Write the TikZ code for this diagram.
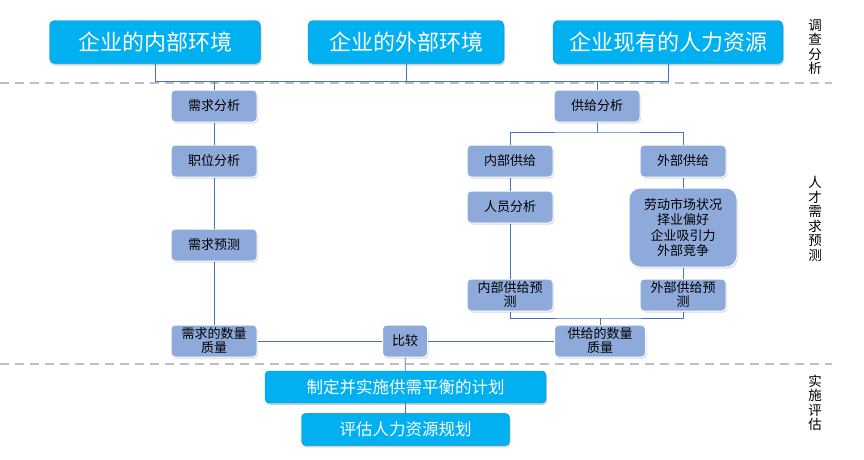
\documentclass[tikz,border=0pt]{standalone}
\usepackage{fontspec}
\setmainfont{Noto Sans CJK SC}
\usetikzlibrary{positioning,shadows}

\definecolor{cyanbox}{HTML}{00B0F0}
\definecolor{steelbox}{HTML}{8EAADB}
\definecolor{linkblue}{HTML}{4472C4}
\definecolor{sepgray}{HTML}{BFBFBF}

\tikzset{
  mainbox/.style={draw=cyanbox!85!black, fill=cyanbox, text=white, rounded corners=5pt,
    inner sep=0pt, minimum height=43pt,
    drop shadow={shadow xshift=1pt, shadow yshift=-2pt, opacity=.35}},
  stepbox/.style={draw=white, line width=1pt, fill=steelbox, text=black, rounded corners=4pt,
    inner sep=0pt, minimum width=86pt, minimum height=32pt, align=center,
    font=\fontsize{13}{14}\selectfont,
    drop shadow={shadow xshift=1pt, shadow yshift=-1.5pt, opacity=.3}},
  planbox/.style={draw=cyanbox!85!black, fill=cyanbox, text=white, rounded corners=4pt,
    inner sep=0pt, minimum height=32pt, font=\fontsize{16.5}{19}\selectfont,
    drop shadow={shadow xshift=1pt, shadow yshift=-2pt, opacity=.35}},
  link/.style={draw=linkblue, line width=0.8pt},
  sep/.style={draw=sepgray, line width=2pt, dash pattern=on 9pt off 6pt},
  phase/.style={align=center, inner sep=0pt, font=\fontsize{13.5}{14.5}\selectfont},
}

\begin{document}
\begin{tikzpicture}[x=1pt, y=-1pt]
  \useasboundingbox (0,0) rectangle (864,459);

  % phase separators
  \draw[sep] (0,83) -- (832,83);
  \draw[sep] (0,364) -- (832,364);

  % survey
  \node[mainbox, minimum width=211pt, font=\fontsize{22}{26}\selectfont] (inner) at (155,42) {企业的内部环境};
  \node[mainbox, minimum width=196pt, font=\fontsize{22}{26}\selectfont] (outer) at (406,42) {企业的外部环境};
  \node[mainbox, minimum width=230pt, font=\fontsize{22}{26}\selectfont] (staff) at (668,42) {企业现有的人力资源};

  % demand side
  \node[stepbox] (demand) at (214,106) {需求分析};
  \node[stepbox] (job) at (214,161) {职位分析};
  \node[stepbox] (dforecast) at (214,245) {需求预测};
  \node[stepbox] (dqty) at (214,341) {需求的数量\\质量};
  \node[stepbox, minimum width=45pt] (compare) at (405,341) {比较};

  % supply side
  \node[stepbox] (supply) at (597,106) {供给分析};
  \node[stepbox] (insup) at (510,161) {内部供给};
  \node[stepbox] (outsup) at (683,161) {外部供给};
  \node[stepbox] (people) at (510,207) {人员分析};
  \node[stepbox, minimum width=108pt, minimum height=79pt, rounded corners=11pt,
        font=\fontsize{13}{15.5}\selectfont] (market) at (683,227.5)
        {劳动市场状况\\择业偏好\\企业吸引力\\外部竞争};
  \node[stepbox] (inforecast) at (510,295) {内部供给预\\测};
  \node[stepbox] (outforecast) at (683,295) {外部供给预\\测};
  \node[stepbox, minimum width=91pt] (sqty) at (600,341) {供给的数量\\质量};

  % implementation
  \node[planbox, minimum width=281pt] (plan) at (405.5,387) {制定并实施供需平衡的计划};
  \node[planbox, minimum width=208pt, below=10pt of plan] (review) {评估人力资源规划};

  % phase labels
  \node[phase] (lbl1) at (815,47) {调\\查\\分\\析};
  \node[phase] (lbl2) at (815,219) {人\\才\\需\\求\\预\\测};
  \node[phase] (lbl3) at (815,403) {实\\施\\评\\估};

  % connectors
  \coordinate (bus) at (0,81);
  \draw[link] (inner.south) -- (inner.south |- bus) -| (staff.south);
  \draw[link] (outer.south) -- (outer.south |- bus);
  \draw[link] (demand.north) -- (demand.north |- bus);
  \draw[link] (supply.north) -- (supply.north |- bus);

  \draw[link] (demand) -- (job);
  \draw[link] (job) -- (dforecast);
  \draw[link] (dforecast) -- (dqty);
  \draw[link] (dqty) -- (compare);
  \draw[link] (compare) -- (sqty);
  \draw[link] (compare) -- (plan);
  \draw[link] (plan) -- (review);

  \coordinate (split) at (0,132);
  \draw[link] (supply.south) -- (supply.south |- split);
  \draw[link] (insup.north) |- (supply.south |- split) -| (outsup.north);
  \draw[link] (insup) -- (people);
  \draw[link] (people) -- (inforecast);
  \draw[link] (outsup) -- (market);
  \draw[link] (market) -- (outforecast);

  \coordinate (merge) at (0,318);
  \draw[link] (inforecast.south) |- (sqty.north |- merge) -| (outforecast.south);
  \draw[link] (sqty.north) -- (sqty.north |- merge);
\end{tikzpicture}
\end{document}
